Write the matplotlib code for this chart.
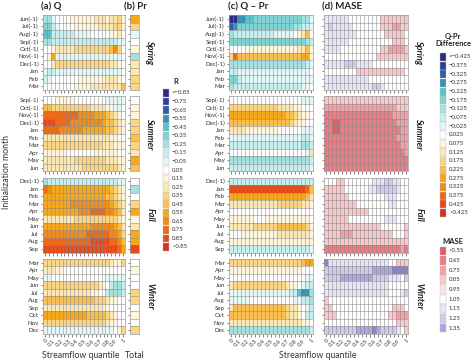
import numpy as np
import matplotlib
matplotlib.use("Agg")
import matplotlib.pyplot as plt
from matplotlib.colors import ListedColormap, BoundaryNorm
from matplotlib.patches import Rectangle

plt.rcParams["font.family"] = ["Lato", "DejaVu Sans"]

W, H = 474, 361

seasons = ["Spring", "Summer", "Fall", "Winter"]
spring_months = ["Jun(-1)", "Jul(-1)", "Aug(-1)", "Sep(-1)", "Oct(-1)", "Nov(-1)", "Dec(-1)", "Jan", "Feb", "Mar"]
summer_months = ["Sep(-1)", "Oct(-1)", "Nov(-1)", "Dec(-1)", "Jan", "Feb", "Mar", "Apr", "May", "Jun"]
fall_months = ["Dec(-1)", "Jan", "Feb", "Mar", "Apr", "May", "Jun", "Jul", "Aug", "Sep"]
winter_months = ["Mar", "Apr", "May", "Jun", "Jul", "Aug", "Sep", "Oct", "Nov", "Dec"]
months = [spring_months, summer_months, fall_months, winter_months]

quantiles = [0, 0.05, 0.1, 0.15, 0.2, 0.25, 0.3, 0.35, 0.4, 0.45, 0.5,
             0.55, 0.6, 0.65, 0.7, 0.75, 0.8, 0.85, 0.9, 0.95, 1]
qlabels = ["0", "0.1", "0.2", "0.3", "0.4", "0.5", "0.6", "0.7", "0.8", "0.9", "1"]

# R (correlation) x10, one string per initialization month, 21 quantiles
r_spring = [
    "-3 -3 -1 0 0 0 0 1 1 1 1 1 1 2 2 2 1 2 2 3 1",
    "-4 -4 -2 -1 0 0 0 0 1 1 1 1 1 1 2 2 2 2 3 3 1",
    "-5 -5 -2 -2 -2 -2 -2 -2 -1 -1 -1 -1 0 0 0 0 0 1 1 2 0",
    "-3 -3 -2 -2 -2 -2 -2 -2 -2 -2 -2 -2 -2 -2 -2 -2 -2 -2 -2 -1 -1",
    "0 0 1 2 2 2 2 2 3 3 3 3 3 3 3 3 3 4 6 3 0",
    "0 1 5 -1 -1 -1 -1 -1 -1 -1 -1 -1 -1 -1 -1 -1 -1 -1 -1 -1 0",
    "0 0 2 3 3 3 3 3 3 3 3 3 3 3 3 3 3 2 2 1 0",
    "-1 -2 -2 -1 -1 -1 -1 -1 -1 -1 -1 -1 -1 -1 -1 -1 -1 -1 -1 -1 0",
    "-2 -1 0 0 0 0 0 0 0 1 1 1 1 1 1 1 2 2 2 1 0",
    "0 0 0 0 0 0 0 0 1 1 1 1 2 2 2 2 2 2 2 2 4",
]
r_summer = [
    "0 0 0 1 1 1 1 1 0 0 0 0 0 0 0 0 -1 -1 -1 -1 -1",
    "4 4 3 3 3 3 3 3 3 3 3 3 2 2 2 2 1 1 -1 -1 0",
    "7 7 7 7 7 7 7 7 7 6 6 6 6 5 5 5 4 3 2 1 0",
    "8 8 8 7 7 7 7 6 6 6 6 6 6 6 6 5 4 4 3 2 1",
    "7 7 7 7 6 6 6 6 6 6 5 5 5 5 5 5 4 4 3 2 1",
    "2 2 2 2 2 2 2 2 2 2 2 2 2 2 2 2 2 1 1 0 0",
    "3 3 3 3 3 3 3 3 3 3 3 3 3 3 3 2 2 2 1 1 1",
    "1 1 1 1 1 1 0 0 0 0 0 0 0 1 1 1 1 1 1 0 0",
    "2 2 2 2 2 2 2 2 3 3 3 3 3 3 3 3 2 2 2 1 1",
    "2 2 2 2 2 2 2 2 2 2 3 3 3 3 3 3 3 3 3 2 1",
]
r_fall = [
    "-3 -2 -2 -2 -2 -2 -2 -2 -2 -2 -2 -2 -2 -2 -2 -2 -2 -2 -2 -1 -1",
    "7 6 5 5 5 5 5 5 5 5 5 5 5 5 5 5 5 4 3 2 1",
    "5 5 5 5 5 5 5 5 5 5 5 5 5 5 5 5 4 4 3 2 1",
    "5 5 5 5 5 5 5 6 6 6 6 6 6 6 6 6 6 5 4 3 2",
    "5 5 5 5 5 5 5 5 5 6 6 6 7 7 7 7 6 6 5 4 2",
    "2 2 2 2 2 2 2 2 3 3 3 3 3 3 3 3 3 3 3 2 1",
    "5 5 5 5 5 5 5 5 5 5 5 5 6 6 6 6 6 6 5 4 2",
    "6 6 6 6 6 6 6 6 6 6 6 7 7 7 7 7 7 6 6 5 3",
    "7 7 7 7 7 7 7 7 7 7 7 7 8 8 8 8 8 7 7 6 4",
    "8 8 8 8 8 8 8 8 8 8 8 8 8 8 8 8 8 8 8 7 5",
]
r_winter = [
    "3 3 3 3 3 3 3 3 3 3 3 3 3 3 3 3 3 2 1 1 3",
    "2 2 2 1 1 0 0 0 0 0 0 0 0 0 0 0 0 0 0 0 0",
    "-1 -1 0 0 0 0 0 0 0 0 0 0 0 0 0 0 -1 -1 -1 -1 -1",
    "3 3 3 3 3 3 3 3 3 3 3 3 3 3 2 1 0 -2 -3 -3 -2",
    "2 2 2 2 2 2 2 2 2 2 2 2 1 1 0 0 -2 -3 -3 -3 -2",
    "4 4 4 4 4 4 4 4 4 4 4 4 4 3 3 3 2 1 1 0 0",
    "2 2 2 2 2 2 2 2 2 2 2 2 2 2 2 1 1 0 0 0 0",
    "5 5 5 5 5 5 5 5 5 5 5 4 4 4 4 4 3 2 1 0 0",
    "3 3 3 3 3 3 3 3 3 3 3 3 3 3 3 3 2 1 1 0 0",
    "-1 -1 -1 -1 -1 -1 -1 -1 -1 -1 -1 -1 -1 -1 -1 -1 -1 -1 0 1 3",
]
# R of total precipitation, x10
pr_spring = [5, 3, -1, 0, 1, -3, 2, 2, 3, 3]
pr_summer = [0, 1, 1, 3, 3, 4, 3, 2, 5, 4]
pr_fall = [0, -3, 0, 3, 5, 1, 2, 5, 5, 8]
pr_winter = [0, 1, 0, 0, 3, 3, 0, 1, 0, 3]

# Q - Pr difference, in steps of 0.05
d_spring = [
    "-9 -9 -6 -6 -5 -5 -4 -4 -4 -4 -4 -4 -4 -4 -4 -4 -4 -4 -3 -3 -1",
    "-7 -6 -4 -4 -4 -4 -4 -4 -4 -4 -4 -4 -4 -4 -4 -4 -3 -3 -2 -2 -1",
    "-3 -2 -2 -2 -2 -2 -2 -2 -2 -2 -2 -1 -1 -1 -1 -1 0 1 2 4 0",
    "-4 -4 -4 -4 -4 -4 -4 -4 -4 -4 -4 -4 -4 -4 -4 -4 -4 -4 -4 -3 -2",
    "0 0 0 0 1 1 1 1 1 1 1 1 1 1 1 1 1 2 2 4 1",
    "3 7 4 4 4 4 4 4 4 4 4 4 4 4 4 4 4 4 5 5 1",
    "-3 -3 -3 -3 -3 -3 -3 -3 -3 -3 -3 -3 -3 -3 -3 -3 -3 -3 -3 -2 -1",
    "-2 -2 -1 -1 -1 -1 -1 -1 -1 -1 -1 -1 -1 -1 -1 -1 -1 -1 -1 -1 0",
    "-4 -4 -2 -1 -1 -1 -1 -1 -1 -1 -1 -1 -1 -1 -1 -1 -1 -1 -1 -1 -1",
    "-3 -2 -2 -2 -2 -2 -2 -2 -2 -2 -2 -2 -2 -2 -2 -2 -2 -2 -1 1 0",
]
d_summer = [
    "0 0 0 0 0 0 0 0 0 0 0 0 0 0 0 0 0 0 -1 -1 -1",
    "3 3 3 3 3 3 3 3 3 3 3 3 2 2 2 2 1 1 0 0 0",
    "5 5 5 5 5 5 5 5 5 5 5 5 5 5 4 4 3 2 1 1 0",
    "4 4 4 4 4 4 4 4 4 4 4 4 4 4 4 3 2 1 1 0 0",
    "2 2 2 2 1 1 1 1 1 1 1 1 0 0 0 0 0 0 -1 -1 -1",
    "-1 -1 -1 -1 -1 -1 -1 -1 -1 -1 -1 -1 -1 -1 -1 -1 -1 -1 -2 -2 -1",
    "-2 -2 -2 -2 -2 -2 -2 -2 -2 -2 -2 -2 -2 -2 -2 -2 -2 -2 -3 -3 -2",
    "0 0 0 0 0 0 0 0 0 0 0 0 0 0 0 0 0 0 0 -1 2",
    "-3 -3 -3 -3 -3 -3 -3 -3 -3 -3 -3 -3 -3 -3 -3 -3 -3 -3 -3 -3 -2",
    "-2 -2 -2 -2 -2 -2 -2 -2 -2 -2 -2 -2 -2 -2 -2 -2 -2 -2 -2 -2 -1",
]
d_fall = [
    "-2 -2 -2 -2 -2 -2 -2 -2 -2 -2 -2 -2 -2 -2 -2 -2 -2 -2 -2 -2 -2",
    "8 8 8 8 8 8 8 8 8 8 8 8 8 8 8 8 8 8 8 7 4",
    "5 5 5 5 5 5 5 5 5 5 5 5 5 5 5 5 5 5 5 4 2",
    "2 2 2 2 2 2 2 2 2 2 2 2 3 3 3 3 3 3 2 2 1",
    "0 0 0 0 0 0 0 0 0 0 0 0 0 0 0 0 0 0 0 0 0",
    "1 1 1 1 1 1 0 0 0 1 1 1 1 1 1 1 1 1 1 1 0",
    "2 2 2 2 2 2 3 3 3 3 3 3 4 4 4 4 4 4 4 3 1",
    "0 0 0 1 1 1 1 1 1 1 1 1 2 2 2 2 2 2 2 2 1",
    "1 1 1 1 1 1 1 1 1 1 1 1 1 1 1 1 1 1 1 1 1",
    "-2 -2 -2 -2 -2 -2 -2 -2 -2 -2 -2 -2 -2 -2 -2 -2 -2 -2 -2 -2 -1",
]
d_winter = [
    "3 3 3 3 3 3 3 3 3 3 3 3 3 3 3 3 3 3 4 5 5",
    "1 1 1 1 1 1 1 1 1 1 1 1 1 1 1 1 1 1 0 0 0",
    "0 0 0 0 0 0 0 0 0 0 0 0 0 0 0 0 0 0 0 -1 -1",
    "2 3 3 3 3 3 3 3 3 3 3 3 3 3 2 1 1 0 -1 -2 -2",
    "-1 -1 -1 -1 -1 -1 -1 -1 -1 -1 -1 -1 -1 -1 -1 -2 -2 -5 -6 -6 -3",
    "-1 -1 -1 -1 -1 0 0 0 0 0 0 0 0 0 0 0 -1 -1 -2 -2 -3",
    "2 4 4 4 4 4 4 4 4 4 4 4 4 4 3 2 2 1 0 -1 -2",
    "4 4 4 4 4 4 4 4 4 4 4 4 4 4 3 2 2 1 0 -2 -2",
    "2 2 2 2 2 2 2 2 2 2 2 2 2 2 2 2 2 2 1 1 0",
    "-3 -3 -3 -3 -3 -3 -3 -3 -3 -3 -3 -3 -3 -3 -3 -3 -3 -3 -3 -3 -2",
]

# MASE, as (MASE - 1) x10
m_spring = [
    "1 1 1 1 1 1 0 0 0 0 0 0 0 0 -1 -1 -1 -1 -1 -1 -1",
    "1 2 1 1 1 1 1 0 0 0 0 0 0 0 -1 -1 -1 -2 -2 -1 -1",
    "1 1 1 1 1 1 1 1 0 0 0 0 0 0 0 -1 -1 -1 -1 -1 0",
    "1 1 1 1 1 1 0 0 0 0 0 0 0 0 0 0 0 -1 -1 -1 0",
    "1 1 1 1 0 0 0 0 0 0 0 0 0 0 -1 -1 -2 -2 -2 -2 -1",
    "0 0 0 0 0 0 0 0 0 0 0 0 0 -1 -1 -1 -1 -1 -1 -1 -1",
    "1 1 1 1 1 2 2 2 1 1 1 1 0 0 0 0 0 0 0 0 0",
    "0 0 0 0 0 0 0 0 -1 -1 -1 -1 -1 -1 -1 -1 -1 -1 -1 -1 0",
    "1 1 1 1 1 1 1 1 1 1 1 0 0 0 0 0 0 0 0 0 0",
    "1 1 1 1 1 1 1 1 1 1 1 1 2 2 1 0 0 0 0 0 0",
]
m_summer = [
    "-1 -1 -1 -1 -1 -1 -1 -1 -1 -1 -1 -1 -1 -1 -1 -1 -1 -1 -1 -1 -1",
    "-2 -2 -2 -2 -2 -2 -2 -2 -2 -2 -2 -2 -2 -2 -2 -2 -2 -2 -1 -1 -1",
    "-3 -3 -3 -3 -3 -3 -3 -3 -3 -3 -3 -3 -3 -3 -3 -3 -3 -2 -2 -2 -2",
    "-3 -3 -4 -4 -3 -3 -3 -3 -3 -3 -3 -3 -3 -3 -3 -3 -3 -3 -2 -2 -2",
    "-3 -3 -4 -4 -3 -3 -3 -3 -3 -3 -3 -3 -3 -3 -3 -3 -3 -3 -3 -2 -2",
    "-3 -3 -3 -3 -3 -3 -3 -3 -3 -3 -3 -3 -3 -3 -3 -3 -3 -3 -2 -2 -2",
    "-3 -3 -3 -3 -3 -3 -3 -3 -3 -3 -3 -3 -3 -3 -3 -3 -3 -3 -3 -2 -2",
    "-3 -3 -3 -3 -3 -3 -3 -3 -3 -3 -3 -3 -3 -3 -3 -3 -3 -3 -3 -3 -2",
    "-3 -3 -3 -3 -3 -3 -3 -3 -3 -3 -3 -3 -3 -3 -3 -3 -3 -3 -3 -3 -3",
    "-3 -3 -3 -3 -3 -3 -3 -3 -3 -3 -3 -3 -3 -3 -3 -3 -3 -3 -3 -3 -3",
]
m_fall = [
    "0 0 0 -1 -1 0 0 0 0 0 0 0 1 1 1 2 2 1 1 0 0",
    "-1 -1 -1 -1 -1 0 0 0 0 0 0 1 1 2 2 2 2 2 1 0 0",
    "-1 -1 -1 -1 -1 -1 0 0 0 0 0 0 0 0 0 1 1 1 0 0 0",
    "-1 -1 -1 -1 -1 -1 -1 -1 0 0 0 0 0 0 0 0 1 1 0 0 0",
    "-1 -1 -1 -1 -1 -1 -1 -1 -1 -1 -1 0 0 0 0 0 0 0 0 0 0",
    "-1 -1 -1 -1 -1 -1 0 0 0 0 0 0 0 0 0 1 1 1 0 0 0",
    "-1 -1 -1 -1 -1 -1 -1 -1 -1 -1 -1 -1 -1 -1 0 0 0 0 0 0 -1",
    "-1 -1 -1 -1 -2 -2 -2 -1 -1 -1 -1 -1 -1 -1 -1 -1 -1 0 0 0 -1",
    "-1 -1 -1 -1 -1 -1 -1 -1 -1 -1 -1 -1 -1 -1 -1 -1 -1 -1 -1 -1 -1",
    "-3 -3 -3 -3 -3 -3 -3 -3 -3 -3 -3 -3 -3 -3 -3 -3 -3 -3 -3 -2 -3",
]
m_winter = [
    "4 1 1 1 1 1 1 1 1 1 1 1 1 1 1 1 0 0 -1 -1 -1",
    "2 2 2 2 2 2 2 2 2 2 2 2 3 3 3 3 3 4 4 4 4",
    "2 2 2 2 3 3 3 3 3 3 3 3 2 2 2 2 1 1 1 0 2",
    "1 1 1 1 1 1 1 1 1 1 1 1 1 1 1 1 0 0 0 0 0",
    "1 1 1 1 1 1 1 1 1 1 1 1 1 1 1 1 0 0 0 1 2",
    "-1 0 0 0 0 0 0 0 0 0 0 0 0 0 0 0 0 0 0 0 0",
    "-1 -1 0 0 0 0 0 0 0 0 0 0 0 0 0 0 0 -1 -1 -1 0",
    "-1 -1 -1 0 0 0 0 0 0 0 0 0 0 0 0 0 -1 -1 -2 -2 -2",
    "0 0 0 0 0 0 0 0 0 0 0 0 0 0 0 0 0 0 -1 -1 -1",
    "2 2 2 2 2 2 2 2 3 3 3 3 4 3 2 2 2 2 1 0 -1",
]

r_labels = ["<\u22120.85", "\u22120.75", "\u22120.65", "\u22120.55", "\u22120.45", "\u22120.35",
            "\u22120.25", "\u22120.15", "\u22120.05", "0.05", "0.15", "0.25", "0.35", "0.45",
            "0.55", "0.65", "0.75", "0.85", ">0.85"]
d_labels = ["<\u22120.425", "\u22120.375", "\u22120.325", "\u22120.275", "\u22120.225", "\u22120.175",
            "\u22120.125", "\u22120.075", "\u22120.025", "0.025", "0.075", "0.125", "0.175", "0.225",
            "0.275", "0.325", "0.375", "0.425", ">0.425"]
m_labels = ["<0.55", "0.65", "0.75", "0.85", "0.95", "1.05", "1.15", "1.25", "1.35"]

div_colors = ["#2e2a80", "#2d3c97", "#2f5ba8", "#3a8fb3", "#58c3c7", "#7fd3d2", "#a4e2e0",
              "#c6efed", "#e4f8f7", "#ffffff", "#fef5db", "#fde7b2", "#fcd582", "#fac04f",
              "#f6a81d", "#f18c1a", "#ea6a18", "#e34b1c", "#d9301f"]
mase_colors = ["#e75b63", "#ec7c83", "#f2a0a5", "#f8c8cb", "#ffffff", "#e8e6f6",
               "#cfcbee", "#aca7e0", "#8a83d4", "#6a62c4"]
mase_legend_colors = ["#e75b63", "#ec7c83", "#f2a0a5", "#f8c8cb", "#fbe4e5", "#ffffff",
                      "#e8e6f6", "#cfcbee", "#aca7e0"]


def decode(rows, scale, offset=0.0):
    return np.array([[int(v) for v in r.split()] for r in rows]) * scale + offset


r_data = [decode(b, 0.1) for b in (r_spring, r_summer, r_fall, r_winter)]
pr_data = [np.array(b)[:, None] * 0.1 for b in (pr_spring, pr_summer, pr_fall, pr_winter)]
d_data = [decode(b, 0.05) for b in (d_spring, d_summer, d_fall, d_winter)]
m_data = [decode(b, 0.1, 1.0) for b in (m_spring, m_summer, m_fall, m_winter)]

cmap_div = ListedColormap(div_colors)
norm_r = BoundaryNorm(np.arange(-9.5, 10, 1) / 10, 19)
norm_d = BoundaryNorm(np.arange(-9.5, 10, 1) * 0.05, 19)
cmap_m = ListedColormap(mase_colors)
norm_m = BoundaryNorm(np.arange(-4.5, 6, 1) * 0.1 + 1, 10)

fig = plt.figure(figsize=(W / 100, H / 100), dpi=100)


def ax_px(x0, y0, x1, y1):
    return fig.add_axes([x0 / W, 1 - y1 / H, (x1 - x0) / W, (y1 - y0) / H])


grid = "#8a8a8a"
tick_fs = 4.4
txt = "#333333"


def heat(ax, vals, cmap, norm, ylabels, show_x):
    nr, nc = vals.shape
    ax.pcolormesh(np.arange(nc + 1), np.arange(nr + 1), vals, cmap=cmap, norm=norm)
    ax.vlines(np.arange(1, nc), 0, nr, color=grid, linewidth=0.45, alpha=0.85)
    ax.hlines(np.arange(1, nr), 0, nc, color=grid, linewidth=0.45, alpha=0.85)
    ax.set_xlim(0, nc)
    ax.set_ylim(nr, 0)
    ax.set_yticks(np.arange(nr) + 0.5)
    if ylabels is not None:
        ax.set_yticklabels(ylabels, fontsize=tick_fs, color=txt)
    else:
        ax.set_yticklabels([])
    if nc > 1:
        ax.set_xticks(np.arange(nc) + 0.5)
        if show_x:
            lab = [qlabels[i // 2] if i % 2 == 0 else "" for i in range(nc)]
            ax.set_xticklabels(lab, fontsize=tick_fs - 0.2, color=txt, rotation=45,
                               ha="right", rotation_mode="anchor")
        else:
            ax.set_xticklabels([])
    else:
        ax.set_xticks([])
    ax.tick_params(length=1.8, width=0.5, color="#555555", pad=1.2)
    for s in ax.spines.values():
        s.set_color("#999999")
        s.set_linewidth(0.5)


tops = [15, 96.3, 177.6, 258.9]
bh = 75
for i in range(4):
    y0, y1 = tops[i], tops[i] + bh
    last = i == 3
    heat(ax_px(43, y0, 125, y1), r_data[i], cmap_div, norm_r, months[i], last)
    heat(ax_px(130, y0, 139, y1), pr_data[i], cmap_div, norm_r, None, False)
    heat(ax_px(229, y0, 313, y1), d_data[i], cmap_div, norm_d, months[i], last)
    heat(ax_px(324, y0, 408, y1), m_data[i], cmap_m, norm_m, None, last)

over = fig.add_axes([0, 0, 1, 1], zorder=5)
over.set_xlim(0, W)
over.set_ylim(H, 0)
over.axis("off")

for i, s in enumerate(seasons):
    yc = tops[i] + bh / 2
    for x in (150, 419):
        over.text(x, yc, s, rotation=-90, ha="center", va="center", fontsize=6.5,
                  fontweight="bold", fontstyle="italic", color="#222222")

titles = [("(a) Q", 41), ("(b) Pr", 124), ("(c) Q \u2013 Pr", 228), ("(d) MASE", 322)]
for t, x in titles:
    over.text(x, 7, t, ha="left", va="center", fontsize=7, fontweight="bold", color="#222222")

over.text(7, 172, "Initialization month", rotation=90, ha="center", va="center",
          fontsize=6.3, color=txt)
over.text(81, 355, "Streamflow quantile", ha="center", va="center", fontsize=6.3, color=txt)
over.text(135, 355, "Total", ha="center", va="center", fontsize=6.3, color=txt)
over.text(318, 355, "Streamflow quantile", ha="center", va="center", fontsize=6.3, color=txt)


def legend(x, y_first, y_last, colors, labels, title_lines, title_y):
    n = len(colors)
    step = (y_last - y_first) / (n - 1)
    for k, (c, lab) in enumerate(zip(colors, labels)):
        yc = y_first + k * step
        over.add_patch(Rectangle((x, yc - step / 2 + 0.4), 6.5, step - 0.8, facecolor=c,
                                 edgecolor="#bbbbbb", linewidth=0.3))
        over.text(x + 9, yc, lab, ha="left", va="center", fontsize=4.3, color=txt)
    for j, t in enumerate(title_lines):
        over.text(x + 13, title_y + j * 7, t, ha="center", va="center", fontsize=5.5,
                  fontweight="bold", color="#222222")


legend(163, 93, 247, div_colors, r_labels, ["R"], 82)
legend(440, 57, 213, div_colors, d_labels, ["Q-Pr", "Difference"], 36)
legend(440, 251, 328, mase_legend_colors, m_labels, ["MASE"], 241)

fig.savefig("out.png", dpi=100)
